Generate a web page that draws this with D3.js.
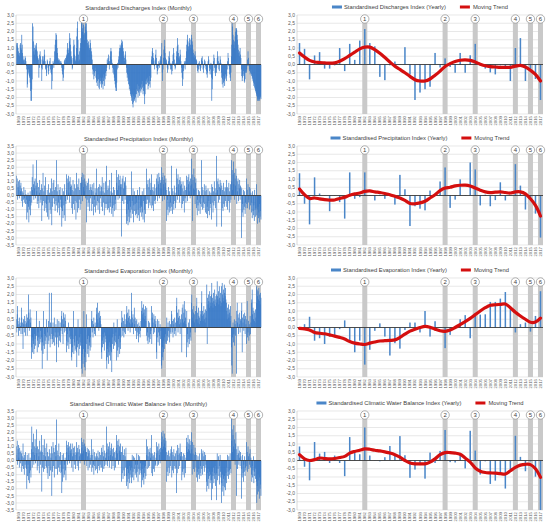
<!DOCTYPE html>
<html>
<head>
<meta charset="utf-8">
<script src="https://cdn.jsdelivr.net/npm/d3@7"></script>
<style>
  body { margin: 0; background: #fff; }
  svg { display: block; }
</style>
</head>
<body>
<div id="chart"></div>
<script>
// ---------------------------------------------------------------
// Standardised indices, monthly (left) and yearly + trend (right)
// ---------------------------------------------------------------

var years = d3.range(1969, 2018);
var eventYears = [1982, 1998, 2004, 2012, 2015, 2017];
var eventLabels = ["1", "2", "3", "4", "5", "6"];

var monthlyTitles = [
  "Standardised Discharges Index (Monthly)",
  "Standardised Precipitation Index (Monthly)",
  "Standardised Evaporation Index (Monthly)",
  "Standardised Climatic Water Balance Index (Monthly)"
];
var yearlyNames = [
  "Standardised Discharges Index (Yearly)",
  "Standardised Precipitation Index (Yearly)",
  "Standardised Evaporation Index (Yearly)",
  "Standardised Climatic Water Balance Index (Yearly)"
];
var trendName = "Moving Trend";
var monthlyLimits = [3, 3.5, 3, 3.5];
var yearlyLimit = 3;

// yearly values, one per year
var sdiYearly = [1.3,0.95,-0.9,0.55,0.75,-0.25,-0.25,-0.05,1.0,-0.4,
  1.25,0.28,1.45,2.15,1.3,1.1,-0.75,-0.95,-0.05,0.18,
  0.02,1.05,-0.6,-2.15,-1.7,-1.5,-1.35,0.7,-0.18,0.37,
  -0.15,-0.5,0.7,-0.5,0.56,1.25,-0.05,-0.25,-0.48,-0.6,
  -0.05,-0.1,-1.0,1.0,1.6,-1.0,-0.35,-0.88,-2.15];
var sdiTrend = [0.7,0.45,0.25,0.15,0.12,0.1,0.08,0.1,0.2,0.35,
  0.55,0.75,0.95,1.05,1.05,0.9,0.68,0.42,0.15,-0.1,
  -0.3,-0.5,-0.72,-0.92,-1.0,-1.0,-0.88,-0.65,-0.4,-0.12,
  0.05,0.18,0.26,0.28,0.25,0.15,0.02,-0.08,-0.13,-0.15,
  -0.17,-0.18,-0.17,-0.1,-0.05,-0.15,-0.35,-0.6,-1.0];

var spiYearly = [1.35,-0.5,-1.75,1.1,0.12,0.02,-0.95,0.03,-0.4,-1.4,
  1.4,-0.2,-0.1,1.4,0.02,-0.3,0.05,-0.2,0.02,-0.55,
  1.25,0.38,-1.85,-0.65,-0.8,-0.9,0.3,0.02,0.85,1.7,
  -0.75,-0.25,0.98,0.03,2.0,1.58,-0.6,0.05,-0.65,-0.28,
  0.8,-0.3,0.02,1.9,0.6,-0.85,-0.1,-1.1,-2.55];
var spiTrend = [0.4,0.05,-0.18,-0.15,-0.2,-0.25,-0.28,-0.27,-0.18,-0.1,
  0.02,0.1,0.15,0.25,0.28,0.22,0.18,0.12,0.05,-0.05,
  -0.15,-0.3,-0.48,-0.5,-0.45,-0.35,-0.15,0.05,0.3,0.45,
  0.5,0.58,0.62,0.63,0.58,0.45,0.32,0.22,0.18,0.2,
  0.22,0.18,0.15,0.22,0.22,0.1,-0.2,-0.6,-1.25];

var seiYearly = [-0.05,0.2,0.65,-0.8,-0.65,-1.0,-0.55,-0.45,-0.1,0.43,
  -0.85,-1.5,-0.8,-2.25,-1.35,-0.2,0.25,-0.55,-1.7,-0.95,
  -1.28,-0.15,0.3,0.3,-0.3,1.0,-0.55,0.38,0.03,-1.25,
  -0.45,0.02,0.5,0.75,-0.65,0.85,0.78,0.8,1.55,1.55,
  1.75,2.15,1.1,-0.3,0.2,0.3,-0.25,0.7,2.2];
var seiTrend = [-0.05,-0.08,-0.15,-0.3,-0.35,-0.38,-0.45,-0.52,-0.6,-0.7,
  -0.85,-0.95,-1.0,-1.03,-0.95,-0.88,-0.82,-0.8,-0.78,-0.75,
  -0.6,-0.4,-0.22,-0.1,0.0,0.07,0.02,-0.1,-0.2,-0.23,
  -0.15,0.0,0.17,0.35,0.55,0.78,1.0,1.2,1.35,1.38,
  1.4,1.42,1.2,0.92,0.7,0.5,0.32,0.33,0.57];

var cwbYearly = [0.85,-0.38,-1.2,1.12,0.42,0.52,-0.15,0.3,-0.15,-0.95,
  1.42,0.45,0.38,2.0,0.3,0.02,-0.05,0.2,0.88,0.35,
  1.48,0.32,-1.05,-0.55,-0.28,-1.1,0.48,-0.15,0.58,1.85,
  -0.1,-0.12,0.35,-0.48,1.8,0.6,-0.85,-0.05,-1.42,-1.22,
  -0.78,-1.7,-0.55,1.5,0.22,-0.65,-0.05,-0.98,-3.0];
var cwbTrend = [0.35,0.1,0.0,0.05,0.15,0.12,0.1,0.12,0.18,0.25,
  0.45,0.55,0.62,0.7,0.68,0.62,0.58,0.52,0.45,0.35,
  0.2,0.0,-0.15,-0.2,-0.2,-0.2,-0.1,0.1,0.35,0.48,
  0.48,0.45,0.38,0.15,-0.1,-0.45,-0.65,-0.73,-0.75,-0.77,
  -0.8,-0.82,-0.62,-0.42,-0.28,-0.23,-0.25,-0.5,-1.02];

// monthly values, one row of 12 per year
var sdiMonthly = [
  1.3,1.2,1.1,1.3,1.0,0.8,0.6,0.5,0.7,1.2,1.3,1.0,
  0.9,1.8,1.2,0.7,0.5,0.3,0.2,0.1,0.3,0.5,0.4,0.2,
  -0.1,-0.3,-1.4,-1.2,-0.6,-0.3,-0.5,-0.7,-0.8,-1.1,-1.6,-2.2,
  -2.2,-1.5,-0.9,2.5,2.3,1.4,0.8,0.6,1.0,1.2,0.9,1.1,
  1.3,0.9,0.8,0.5,0.4,0.3,-0.8,-0.2,0.6,0.8,0.5,0.3,
  -0.2,-1.0,-0.3,0.5,0.3,0.2,0.5,0.9,0.6,0.2,-0.3,-0.2,
  -0.7,-0.5,0.3,0.2,-0.2,-0.6,-0.4,-0.1,0.2,0.4,-0.3,-0.5,
  -0.6,-1.5,-1.0,-0.3,0.2,0.1,-0.2,0.3,0.8,1.2,1.5,1.9,
  1.8,1.5,1.0,0.7,0.4,0.3,0.2,0.1,0.3,0.2,0.1,0.2,
  0.1,-0.2,-0.4,-0.6,-1.0,-0.8,-0.3,0.2,0.3,0.1,0.4,0.3,
  0.5,0.6,0.9,1.3,1.0,0.7,0.9,1.4,1.9,1.6,1.2,0.8,
  0.5,0.3,-0.3,-0.2,0.4,1.1,1.5,1.2,0.6,0.3,0.2,0.5,
  1.0,1.7,2.2,2.6,1.5,0.6,0.2,0.3,0.8,1.0,1.3,1.6,
  2.7,2.5,2.2,2.0,2.6,2.4,1.8,1.5,1.9,2.3,2.5,2.1,
  2.5,2.0,1.5,1.3,1.1,1.4,1.2,0.9,1.0,1.5,1.3,1.0,
  0.8,0.6,0.3,-0.3,-0.6,-0.4,-0.9,-0.7,-0.5,-0.2,-0.4,-0.8,
  -1.1,-0.9,-1.3,-1.0,-0.6,-0.9,-1.4,-1.5,-1.1,-0.8,-1.0,-1.2,
  -1.4,-1.1,-0.8,-1.2,-1.5,-1.0,-0.6,-0.8,-1.3,-0.9,-0.5,-0.7,
  -0.4,-0.2,0.3,0.1,0.4,0.6,0.2,-0.3,0.2,0.5,0.8,1.0,
  0.8,0.3,0.1,-0.2,-0.5,-0.3,-0.6,-0.8,-1.0,-1.2,-1.4,-1.6,
  -1.6,-1.1,-0.3,0.1,-0.2,0.3,0.5,0.8,1.0,1.2,1.0,1.1,
  1.3,1.5,1.2,1.4,1.0,0.8,0.5,0.2,0.4,0.6,0.8,0.3,
  -0.2,-0.5,-0.8,-0.6,-1.0,-1.2,-0.9,-1.5,-1.3,-1.6,-1.8,-1.9,
  -2.0,-2.2,-1.8,-2.4,-2.6,-2.3,-1.9,-2.1,-2.2,-1.8,-2.0,-2.3,
  -1.8,-1.5,-1.2,-1.6,-2.0,-1.7,-1.3,-1.5,-1.9,-1.6,-1.4,-1.7,
  -1.5,-1.2,-1.0,-1.4,-1.8,-1.6,-1.3,-1.9,-2.4,-1.8,-1.2,-1.0,
  -1.2,-0.9,-0.8,-1.1,-1.5,-1.3,-1.0,-0.7,-1.2,-1.4,-1.0,-0.8,
  0.3,0.5,0.8,1.0,0.7,0.4,0.2,-0.1,-0.3,0.3,0.6,0.9,
  0.4,-0.2,-0.6,-0.4,-0.3,-0.1,0.2,0.1,-0.2,0.3,0.5,0.2,
  0.6,1.3,-0.5,-1.0,-0.3,0.4,0.9,1.5,1.1,0.7,0.4,0.2,
  0.3,0.1,-0.2,-0.5,-0.3,0.2,0.5,0.8,0.4,-0.1,-0.3,0.1,
  -0.3,-0.6,-0.4,0.2,0.6,1.0,0.7,0.3,-0.1,-0.3,-0.2,0.1,
  0.5,0.8,1.1,1.6,1.2,0.7,0.4,0.3,0.5,0.9,0.6,0.2,
  -0.2,-0.5,-0.8,-1.3,-0.9,-0.4,-0.2,0.2,0.1,-0.3,0.2,0.4,
  0.8,1.2,1.5,1.8,1.4,1.1,0.9,1.3,1.6,1.5,1.2,1.0,
  1.8,1.6,1.4,1.2,0.9,0.7,0.5,0.4,0.6,0.8,0.5,0.3,
  0.3,0.2,-0.2,-0.4,-0.5,-0.3,0.1,0.2,-0.1,-0.3,-0.4,-0.2,
  0.3,0.4,0.5,0.2,-0.3,-0.5,-0.2,0.1,0.3,0.2,-0.1,-0.3,
  -0.4,-0.6,-0.8,-0.5,0.2,0.5,0.3,-0.2,-0.4,-0.6,-0.3,0.1,
  -0.8,-2.2,-1.5,-0.9,-0.4,0.2,0.6,0.4,-0.2,-0.5,-0.7,-0.3,
  -0.5,-0.2,0.4,0.8,0.5,0.2,-0.3,-0.4,0.1,0.5,0.3,0.1,
  -0.5,-0.8,-1.2,-0.9,-1.4,-1.1,-0.7,-1.0,-1.3,-0.9,-0.6,-0.8,
  -1.0,-0.7,-0.3,0.2,0.7,0.4,-0.1,-0.3,-0.6,-0.8,-1.0,-0.5,
  0.5,1.2,2.6,2.3,1.8,1.5,1.2,1.0,1.4,1.7,2.0,2.2,
  2.2,2.1,1.8,1.5,1.2,0.9,0.7,0.5,0.8,1.0,0.6,0.4,
  -0.3,-0.7,-1.0,-0.8,-0.6,-0.4,-0.7,-1.0,-1.1,-0.9,-0.5,-0.4,
  -0.5,-0.3,-0.1,0.3,0.8,0.4,-0.1,-0.3,-0.4,-0.6,-0.5,-0.3,
  -0.6,-0.7,-0.9,-0.8,-1.0,-1.1,-1.3,-1.2,-1.4,-1.5,-1.6,-1.7,
  -1.8,-1.9,-2.0,-2.2,-2.1,-2.2,-2.0,-2.1,-2.2,-1.9,-2.0,-2.1
];

var spiMonthly = [
  1.4,0.8,1.2,-0.3,0.6,1.0,0.4,-0.2,1.1,0.7,0.3,0.9,
  0.5,-0.4,0.3,-0.8,0.2,-0.3,0.6,-0.5,-0.2,0.4,-0.6,0.1,
  -0.3,-1.7,-0.6,-1.2,0.2,-0.8,-1.9,-0.4,-1.0,0.3,-1.4,-0.7,
  0.6,-0.5,1.3,0.4,2.2,0.8,-0.3,1.0,0.5,1.2,-0.2,0.7,
  2.5,0.3,-0.6,0.9,-0.4,0.6,-0.9,0.2,1.1,-0.5,0.4,-0.3,
  0.8,-1.8,0.5,-0.7,1.6,-0.4,0.3,-1.1,0.7,-0.5,1.3,-0.9,
  -0.6,-1.2,0.4,-1.5,-0.3,0.8,-1.7,-0.5,0.2,-1.0,0.5,-1.3,
  1.2,-2.1,0.3,-0.8,0.9,-0.2,1.1,-0.6,0.4,-1.1,0.6,-0.4,
  2.5,-0.7,0.3,-1.2,0.8,-0.5,-0.9,0.4,-1.4,0.6,-0.3,-0.8,
  -0.9,-2.2,0.5,-1.1,-1.6,0.3,-0.7,-1.4,0.8,-1.8,-0.4,-0.6,
  1.5,0.4,1.2,-0.3,0.9,1.4,0.2,1.0,-0.5,1.3,0.6,0.8,
  0.7,-0.9,0.4,-1.3,1.1,-0.6,0.3,-1.0,0.8,-0.4,0.5,-1.7,
  1.6,-0.5,0.8,-1.2,0.6,-0.9,1.2,-0.3,0.4,-1.0,0.9,-0.6,
  1.3,0.9,1.6,-0.4,1.1,0.6,1.5,0.3,1.2,0.8,-0.2,1.0,
  -1.9,0.7,-0.3,0.9,-0.8,1.2,-0.5,0.4,-1.1,0.8,-0.2,0.6,
  0.4,-1.1,0.8,-0.6,0.3,-1.4,0.9,-0.3,-0.8,0.5,-1.2,0.2,
  1.9,-0.7,0.5,-0.4,-1.0,0.6,-0.5,0.8,-1.3,0.3,-0.2,0.7,
  0.6,-0.8,1.3,-1.1,0.3,-0.5,0.9,-1.4,0.2,-0.6,1.0,-0.9,
  2.1,-0.6,0.4,-1.0,0.7,-0.9,0.5,-1.2,1.1,-0.5,-0.8,0.3,
  1.6,-1.3,0.2,-0.9,-1.5,0.6,-0.7,-1.1,0.4,-0.6,-0.3,-1.0,
  1.8,0.9,1.3,0.4,-0.3,1.5,0.7,1.1,-0.2,1.4,0.8,0.6,
  -2.9,0.8,1.2,-0.4,1.4,0.5,-0.6,1.0,0.9,-0.3,1.3,0.7,
  -2.0,-1.3,-1.8,-0.6,-2.1,-1.0,-1.5,-0.4,-1.9,-1.2,-0.8,-1.6,
  1.7,-1.0,-0.4,-1.3,0.5,-1.9,-0.7,0.3,-1.1,-0.6,-1.4,-0.2,
  -1.3,-0.5,-1.6,0.4,-1.0,-1.4,-0.3,-1.8,0.6,-0.9,-1.2,-0.7,
  -0.8,-1.5,0.3,-1.2,-1.7,-0.4,0.5,-1.9,-1.0,-0.6,-1.3,-0.3,
  1.9,-0.6,0.8,-0.3,1.1,-0.9,0.6,-0.5,1.2,-0.7,0.4,0.9,
  1.5,-0.9,0.4,-0.7,0.6,-1.1,0.3,-0.4,0.8,-0.6,-0.3,0.5,
  1.2,0.6,1.5,-0.4,1.0,0.8,1.6,-0.2,1.3,0.5,0.9,1.1,
  2.0,0.5,1.3,-0.4,1.6,0.8,1.1,-0.3,1.4,0.6,0.9,1.2,
  -1.8,0.4,-1.0,-0.3,-1.4,0.6,-0.8,-1.2,0.3,-0.9,-0.5,-1.1,
  2.1,-0.8,0.5,-1.3,0.3,-0.6,-1.0,0.7,-0.4,0.2,-0.9,-0.5,
  1.9,0.6,1.2,-0.3,1.5,0.8,0.4,1.1,-0.5,1.3,0.7,1.0,
  0.8,-0.9,0.5,-0.6,1.0,-0.4,0.3,-1.2,0.7,-0.2,0.4,-0.5,
  1.4,0.6,1.1,-0.4,1.3,0.8,1.5,0.3,1.0,-0.2,1.2,0.7,
  2.6,0.8,1.5,-1.8,1.1,0.5,1.9,0.4,1.3,-0.6,0.9,1.2,
  -0.9,0.5,-1.4,-0.3,-0.7,0.4,-1.1,-0.5,0.3,-1.3,-0.6,-0.2,
  2.5,-0.8,0.6,-1.0,0.4,-0.5,-0.9,0.8,-0.6,0.3,-1.2,0.7,
  -1.3,0.4,-0.8,-1.6,0.5,-1.1,-0.4,-1.4,0.3,-0.9,-0.6,0.2,
  -1.7,0.8,-0.5,0.6,-1.2,0.3,-0.7,1.0,-0.4,0.5,-0.9,0.2,
  2.8,-2.2,1.0,0.4,1.2,-0.5,0.8,0.6,-0.3,1.1,0.5,0.9,
  -2.2,0.7,-0.9,0.4,-1.1,0.9,-0.6,0.3,-0.8,0.6,-0.4,0.5,
  1.1,-0.8,0.6,-1.0,0.5,-0.4,0.9,-1.2,0.3,-0.5,0.8,-0.3,
  2.5,1.0,1.8,0.4,1.5,2.4,0.8,1.6,-0.3,1.2,0.7,1.9,
  1.4,-0.6,1.0,0.3,1.2,-0.4,0.8,0.5,1.1,-0.3,0.7,0.6,
  -3.0,0.5,-1.2,-0.6,-1.5,0.4,-1.0,-0.8,0.3,-1.3,-0.5,-0.9,
  1.2,-0.6,0.4,-0.9,0.8,-0.5,-0.3,0.6,-1.0,0.5,-0.7,0.2,
  -1.2,-0.5,-1.6,0.3,-1.1,-1.4,-0.7,-1.8,0.4,-1.0,-1.5,-0.9,
  0.8,-1.4,-1.0,-2.0,-0.8,-1.6,-1.2,-1.9,-0.6,-1.5,-1.1,-1.7
];

var seiMonthly = [
  0.5,-0.3,0.8,1.3,0.4,-0.5,0.2,0.6,-0.2,0.3,0.1,-0.4,
  1.2,0.6,-0.4,0.3,-1.3,0.5,0.2,-0.3,0.7,0.4,-0.5,0.2,
  0.3,0.8,-0.5,0.6,0.4,2.0,0.9,-0.2,0.5,1.1,0.3,0.6,
  -1.9,-1.2,-0.6,-1.5,-0.8,-1.0,-1.6,-0.4,-1.3,-0.7,-1.1,-0.5,
  1.0,-0.5,-1.5,-0.8,-0.3,-1.2,-0.6,0.4,-1.0,-0.7,-0.2,-0.9,
  -0.6,-1.4,-2.5,-0.9,-1.6,1.0,-1.1,-0.4,-1.3,-0.8,-0.5,-1.0,
  0.5,-0.6,-2.0,-0.3,-1.0,0.4,-0.8,2.1,-0.5,-1.2,0.3,-0.7,
  2.1,-0.4,-1.0,-0.7,0.3,-0.9,-0.5,0.6,-1.1,-0.3,-0.6,0.2,
  -2.1,-1.0,0.5,-0.6,-0.3,-1.2,0.4,-0.8,-0.5,0.3,-0.9,-0.2,
  0.7,1.0,-0.4,0.5,-1.0,0.9,0.2,0.6,-0.3,0.8,0.4,-0.2,
  -1.5,-0.8,-1.1,-0.4,-0.9,0.3,-1.3,-0.6,-0.2,-1.0,-0.7,-0.5,
  -1.8,-2.0,-1.2,-1.5,-0.7,1.0,-1.6,-1.1,-0.9,-1.4,-0.5,-1.3,
  -1.5,-2.4,-0.8,-1.2,0.5,-1.0,-1.7,-0.6,-1.3,-0.9,-1.1,-0.4,
  -2.5,-2.0,-2.8,-1.6,-2.2,-1.3,1.0,-2.4,-1.8,-2.6,-1.5,-2.1,
  0.8,-1.0,-1.6,-0.7,-1.3,-0.5,-1.8,-1.1,-0.9,-1.4,-0.6,-1.2,
  0.5,1.0,-0.3,0.4,-0.6,0.2,0.6,-0.2,-0.4,0.3,-0.5,0.1,
  1.2,0.8,0.5,1.5,0.3,0.9,-0.2,0.6,1.0,0.4,0.7,0.2,
  -1.5,-1.9,-0.8,-1.2,-0.4,-1.0,-0.6,-1.4,-0.3,-0.9,-0.5,-0.7,
  -2.0,-2.5,-1.3,-1.8,-1.1,-2.2,-1.5,-0.9,-1.7,-1.2,-2.0,-1.4,
  -1.5,-2.7,-0.6,-1.0,-0.4,-1.3,0.3,-0.8,-1.1,-0.5,-0.9,-0.3,
  -2.0,-1.0,0.5,-1.4,-1.8,-0.7,-1.2,-0.5,-1.6,-0.9,-1.3,-0.6,
  0.3,1.0,-0.5,0.6,-0.2,0.4,-0.6,0.8,-0.3,0.2,-0.4,0.5,
  0.8,1.3,0.4,0.9,-0.2,0.6,1.1,0.3,0.7,-0.3,0.5,0.2,
  2.1,1.0,0.6,0.3,0.8,-0.4,0.5,1.2,0.2,0.6,-0.2,0.4,
  -0.7,0.5,-0.3,0.2,-0.5,-0.9,0.3,-0.4,0.1,-0.6,-0.2,0.4,
  1.0,1.6,0.8,1.2,0.6,1.4,0.9,0.5,1.1,0.7,1.3,0.4,
  -0.5,1.2,-0.8,-0.3,-1.0,0.4,-0.6,-0.9,0.3,-0.7,-0.4,-0.2,
  1.3,-1.0,0.6,0.9,0.3,-0.4,0.8,0.5,-0.3,0.7,0.2,0.4,
  -1.5,-1.9,-0.6,0.5,-0.9,-0.3,0.4,-1.1,-0.5,0.2,-0.7,-0.2,
  -2.3,-2.5,-1.8,-1.2,-2.0,-1.5,-0.8,-1.3,-0.6,-1.0,-0.4,-0.9,
  -1.0,0.6,-0.5,-0.8,0.3,-0.2,-0.6,0.4,-0.9,-0.3,0.2,-0.4,
  1.0,0.8,-0.3,0.4,-0.6,0.5,0.2,-0.4,0.6,-0.2,0.3,-0.5,
  1.3,1.8,0.4,0.9,-0.3,0.6,1.1,0.2,0.7,-0.4,0.5,0.3,
  0.8,-1.5,1.2,0.5,1.4,0.3,0.9,1.6,0.4,1.1,0.6,0.2,
  -1.8,1.0,-0.9,-0.4,-1.2,0.3,-0.7,-1.0,0.5,-0.6,-0.3,-0.8,
  1.5,2.0,0.6,1.1,0.4,0.9,1.3,0.3,0.8,-0.3,1.0,0.5,
  1.3,1.8,0.5,0.9,0.3,1.2,0.7,0.2,0.6,1.0,0.4,0.8,
  1.5,2.2,0.7,1.0,0.4,0.8,1.3,0.5,0.9,0.3,1.1,0.6,
  1.0,2.6,-1.0,1.8,1.4,2.0,1.6,1.2,2.2,1.5,1.9,1.3,
  2.0,2.7,1.5,1.8,1.2,2.1,1.6,1.4,2.3,1.7,1.3,1.9,
  2.0,1.5,2.8,1.9,1.7,2.2,1.4,2.5,1.8,1.6,2.1,1.3,
  2.5,1.5,2.7,2.0,1.8,2.3,1.6,2.6,2.1,1.9,2.4,1.7,
  1.5,1.0,0.5,1.2,0.8,1.4,0.6,1.1,0.9,0.4,1.3,0.7,
  -1.2,-2.3,-2.8,-0.6,0.3,-0.9,-0.4,0.5,-1.1,0.2,-0.5,0.4,
  -2.8,1.0,1.5,0.3,0.8,-0.4,0.6,0.2,0.9,-0.3,0.5,0.4,
  1.0,1.5,-1.5,0.6,0.3,0.8,-0.2,0.5,0.9,-0.4,0.7,0.2,
  -1.0,0.5,1.6,-0.6,-0.3,0.4,-0.8,0.2,-0.5,0.7,-0.4,0.3,
  1.5,1.7,2.3,0.8,1.2,0.5,1.0,0.4,0.9,0.3,1.1,0.6,
  2.5,1.5,2.3,1.9,2.2,1.7,2.4,1.6,2.0,1.4,2.1,1.8
];

var cwbMonthly = [
  1.0,0.4,1.4,-0.3,0.8,1.1,0.2,-0.5,0.9,0.6,-0.2,0.7,
  0.5,-0.8,0.3,-0.4,1.2,-0.6,0.2,-1.0,0.4,-0.3,0.6,-0.5,
  -0.6,-2.0,0.4,-1.1,-0.3,-1.4,0.5,-0.9,-1.6,0.2,-0.7,-1.2,
  0.8,2.4,-0.5,1.3,0.6,1.9,-0.3,1.0,0.4,1.5,-0.2,0.9,
  2.2,0.5,-0.7,1.0,-0.4,0.8,0.3,-0.9,1.4,0.6,-0.3,0.7,
  1.8,-2.2,0.6,-0.5,1.1,-0.8,0.4,1.5,-0.6,0.9,0.3,-0.4,
  -0.5,1.2,-0.9,0.6,-1.3,0.3,-0.4,0.8,-1.1,0.5,-0.7,0.2,
  1.0,-2.5,0.5,-0.8,1.3,-0.4,0.9,-1.2,0.6,-0.6,1.1,0.3,
  2.9,-0.6,0.7,-1.0,0.4,-0.5,1.2,-0.8,0.3,-0.3,0.6,-0.9,
  -0.8,-2.3,0.4,-1.5,-0.6,0.5,-1.2,-0.3,-1.0,0.2,-0.7,-1.4,
  1.4,0.6,1.1,-0.3,0.9,1.3,0.4,1.0,-0.2,0.7,1.2,0.5,
  0.8,-0.5,1.2,0.3,-0.8,0.9,0.5,-0.3,1.0,0.4,-0.6,0.6,
  1.3,0.5,-0.4,0.9,0.6,-0.7,1.1,0.3,0.8,-0.2,0.5,0.4,
  1.6,0.9,1.3,0.5,1.1,0.7,1.5,-0.3,1.2,0.8,1.0,0.6,
  0.6,-0.4,0.9,0.3,-0.7,0.8,0.5,-0.5,0.7,0.2,-0.3,0.4,
  1.5,-0.8,0.4,-0.5,0.8,-0.3,-1.0,0.6,-0.4,0.3,-0.7,0.2,
  0.5,-0.6,0.3,-0.9,0.7,-0.4,0.2,-0.7,0.6,-0.3,0.4,-0.5,
  0.9,-0.5,0.6,-0.8,1.1,0.3,-0.6,0.7,-0.4,0.5,0.2,-0.3,
  2.4,0.6,1.2,-0.4,0.8,1.0,0.3,-0.5,1.3,0.7,0.4,0.9,
  1.2,-0.6,0.8,0.3,-0.4,0.9,0.5,-0.7,0.6,0.2,-0.5,0.7,
  1.8,0.9,1.4,0.5,1.1,-0.3,1.5,0.7,1.0,0.4,1.2,0.6,
  -1.5,0.6,-0.9,1.0,-1.3,0.4,-0.7,0.8,-1.1,0.3,-0.5,0.9,
  -1.8,-1.1,-1.5,-0.6,-2.0,-0.9,-1.3,-0.4,-1.6,-1.0,-0.7,-1.2,
  -1.6,-0.5,0.4,-1.2,-0.8,0.3,-1.4,-0.6,0.2,-1.0,-0.3,-0.9,
  -1.2,0.5,-0.8,-0.3,-1.5,0.4,-0.6,-1.0,0.3,-0.7,-0.2,-0.9,
  -1.9,-1.0,-0.6,-1.4,-0.3,-1.2,-1.7,-0.5,-0.9,-1.3,-0.4,-1.1,
  1.5,0.4,-0.6,1.0,0.3,-0.5,0.8,0.6,-0.4,0.9,0.2,0.5,
  1.8,-0.9,0.5,-1.1,0.3,-0.6,0.4,-0.8,0.6,-0.4,-0.3,0.2,
  1.3,0.5,-0.4,1.0,0.7,-0.3,1.2,0.4,0.8,-0.2,0.9,0.6,
  2.0,1.3,1.7,0.8,2.1,1.0,1.5,1.9,1.2,1.6,0.9,1.4,
  -1.5,0.6,-0.8,0.4,-1.1,0.7,-0.5,0.3,-0.9,0.5,-0.4,0.8,
  1.0,-1.2,0.6,-0.7,0.4,-0.9,0.8,-0.4,0.3,-0.6,0.5,-0.5,
  -2.3,0.7,-0.9,1.1,0.4,-0.6,0.9,0.5,-0.4,1.2,0.3,0.6,
  0.6,-1.4,0.3,-0.8,-1.0,0.5,-0.6,-1.2,0.4,-0.5,-0.9,0.2,
  1.6,1.0,1.3,0.6,1.8,0.8,1.2,1.5,0.7,1.1,0.5,1.4,
  2.0,0.8,-1.0,1.3,0.5,-0.6,1.1,0.4,-0.8,0.9,0.6,-0.5,
  -1.2,0.4,-0.8,-1.5,0.3,-1.0,-0.6,-1.3,0.5,-0.9,-0.4,-1.1,
  0.8,-0.6,0.5,-1.0,0.7,-0.4,0.3,-0.8,0.6,-0.5,0.4,-0.3,
  -1.5,-2.2,-0.9,-1.8,-0.6,-1.3,-2.0,-1.1,-0.8,-1.6,-1.0,-1.4,
  -2.8,-1.4,-0.8,-2.0,-1.1,-0.5,-1.6,-0.9,-1.3,-0.4,-1.8,-1.0,
  -2.8,-0.9,0.5,-1.4,-0.6,0.3,-1.1,-0.4,-1.7,0.4,-0.8,-1.2,
  -3.0,-1.6,-2.2,-1.0,-1.8,-1.3,-2.5,-1.1,-1.9,-1.4,-2.1,-0.9,
  -1.6,-0.5,-1.1,0.4,-0.8,-1.3,0.3,-0.7,-1.0,0.5,-0.6,-0.9,
  3.0,1.4,2.2,0.6,1.8,1.0,2.5,0.8,1.5,-0.3,1.2,2.0,
  -2.5,0.8,0.4,-0.6,1.0,0.5,-0.3,0.7,0.2,-0.4,0.6,0.3,
  -2.7,-0.6,-1.2,0.4,-0.9,-1.5,-0.3,-0.8,0.3,-1.1,-0.5,-0.7,
  1.3,-0.4,0.6,-0.8,1.0,0.3,-0.6,0.5,-0.3,0.8,-0.5,0.2,
  -1.0,-1.5,-0.4,-1.2,-0.7,0.3,-1.6,-0.8,-1.1,-0.5,-1.3,-0.6,
  -1.5,-3.0,-1.8,-2.4,-1.0,-2.2,-1.4,-2.7,-1.2,-2.0,-1.7,-2.5
];

var monthlySeries = [sdiMonthly, spiMonthly, seiMonthly, cwbMonthly];
var yearlySeries = [sdiYearly, spiYearly, seiYearly, cwbYearly];
var trendSeries = [sdiTrend, spiTrend, seiTrend, cwbTrend];

// layout
var rowTop = [0, 131, 263, 396];
var leftX = [16, 261], rightX = [297, 543];
var plotTop = 15, plotBottom = 114;
var barBlue = "#4a86c8", monthBlue = "#3577c6";
var trendRed = "#d40f0f", bandGrey = "#c9c9c9";
var textGrey = "#595959";

var fmt = d3.formatLocale({decimal: ",", thousands: ".", grouping: [3], currency: ["", ""], minus: "-"}).format(".1f");

var svg = d3.select("#chart").append("svg")
    .attr("width", 550).attr("height", 527)
    .style("font-family", "'Liberation Sans', Arial, sans-serif");

function drawFrame(g, xr, lim) {
  var y = d3.scaleLinear().domain([-lim, lim]).range([plotBottom, plotTop]);
  var ticks = d3.range(-lim, lim + 0.001, 0.5);
  g.append("g").selectAll("line").data(ticks).enter().append("line")
    .attr("x1", xr[0]).attr("x2", xr[1])
    .attr("y1", function(d) { return y(d); }).attr("y2", function(d) { return y(d); })
    .attr("stroke", "#d9d9d9").attr("stroke-width", 0.6);
  g.append("g").selectAll("text").data(ticks).enter().append("text")
    .attr("x", xr[0] - 2).attr("y", function(d) { return y(d) + 1.7; })
    .attr("text-anchor", "end").attr("font-size", 5).attr("fill", textGrey)
    .text(function(d) { return fmt(d); });

  var xb = d3.scaleBand().domain(years).range(xr);
  // highlighted years
  g.append("g").selectAll("rect").data(eventYears).enter().append("rect")
    .attr("x", function(d) { return xb(d); }).attr("width", xb.bandwidth())
    .attr("y", plotTop).attr("height", plotBottom - plotTop)
    .attr("fill", bandGrey);
  // year labels
  g.append("g").selectAll("text").data(years).enter().append("text")
    .attr("transform", function(d) {
      return "translate(" + (xb(d) + xb.bandwidth() / 2 + 1.5) + "," + (plotBottom + 2) + ") rotate(-90)";
    })
    .attr("text-anchor", "end").attr("font-size", 4.3).attr("fill", textGrey)
    .text(function(d) { return d; });
  return {y: y, xb: xb};
}

function drawFront(g, xr, s) {
  g.append("line").attr("x1", xr[0]).attr("x2", xr[1])
    .attr("y1", s.y(0)).attr("y2", s.y(0))
    .attr("stroke", "#3a3a3a").attr("stroke-width", 0.9);
  g.append("line").attr("x1", xr[0]).attr("x2", xr[0])
    .attr("y1", plotTop).attr("y2", plotBottom)
    .attr("stroke", "#bfbfbf").attr("stroke-width", 0.6);
  var ev = g.append("g").selectAll("g").data(eventYears).enter().append("g")
    .attr("transform", function(d) {
      return "translate(" + (s.xb(d) + s.xb.bandwidth() / 2) + "," + (plotTop + 4) + ")";
    });
  ev.append("circle").attr("r", 4.2).attr("fill", "#fff")
    .attr("stroke", "#808080").attr("stroke-width", 0.6);
  ev.append("text").attr("y", 2.1).attr("text-anchor", "middle")
    .attr("font-size", 6).attr("fill", "#404040")
    .text(function(d, i) { return eventLabels[i]; });
}

monthlyTitles.forEach(function(title, r) {
  // ---- monthly panel
  var gl = svg.append("g").attr("transform", "translate(0," + rowTop[r] + ")");
  var sl = drawFrame(gl, leftX, monthlyLimits[r]);
  var xm = d3.scaleLinear().domain([0, years.length * 12]).range(leftX);
  gl.append("g").selectAll("rect").data(monthlySeries[r]).enter().append("rect")
    .attr("x", function(d, i) { return xm(i); })
    .attr("width", function(d, i) { return xm(i + 1) - xm(i) + 0.3; })
    .attr("y", function(d) { return sl.y(Math.max(0, d)); })
    .attr("height", function(d) { return Math.abs(sl.y(d) - sl.y(0)); })
    .attr("fill", monthBlue);
  drawFront(gl, leftX, sl);
  gl.append("text").attr("x", (leftX[0] + leftX[1]) / 2).attr("y", 9.5)
    .attr("text-anchor", "middle").attr("font-size", 5.8).attr("fill", "#404040")
    .text(title);

  // ---- yearly panel
  var gr = svg.append("g").attr("transform", "translate(0," + rowTop[r] + ")");
  var sr = drawFrame(gr, rightX, yearlyLimit);
  var xy = d3.scaleBand().domain(years).range(rightX).paddingInner(0.7).paddingOuter(0.35);
  gr.append("g").selectAll("rect").data(yearlySeries[r]).enter().append("rect")
    .attr("x", function(d, i) { return xy(years[i]); })
    .attr("width", xy.bandwidth())
    .attr("y", function(d) { return sr.y(Math.max(0, d)); })
    .attr("height", function(d) { return Math.abs(sr.y(d) - sr.y(0)); })
    .attr("fill", barBlue);
  drawFront(gr, rightX, sr);
  var line = d3.line()
    .x(function(d, i) { return xy(years[i]) + xy.bandwidth() / 2; })
    .y(function(d) { return sr.y(d); })
    .curve(d3.curveCatmullRom);
  gr.append("path").datum(trendSeries[r]).attr("d", line)
    .attr("fill", "none").attr("stroke", trendRed).attr("stroke-width", 3.2)
    .attr("stroke-linejoin", "round").attr("stroke-linecap", "round");

  // legend
  var lg = gr.append("g");
  lg.append("rect").attr("x", 0).attr("y", 5.5).attr("width", 10).attr("height", 3)
    .attr("fill", barBlue);
  var t1 = lg.append("text").attr("x", 12).attr("y", 9).attr("font-size", 5.8)
    .attr("fill", "#404040").text(yearlyNames[r]);
  var w1 = t1.node().getComputedTextLength();
  var x2 = 12 + w1 + 14;
  lg.append("line").attr("x1", x2).attr("x2", x2 + 10).attr("y1", 7).attr("y2", 7)
    .attr("stroke", trendRed).attr("stroke-width", 3);
  var t2 = lg.append("text").attr("x", x2 + 13).attr("y", 9).attr("font-size", 5.8)
    .attr("fill", "#404040").text(trendName);
  var total = x2 + 13 + t2.node().getComputedTextLength();
  lg.attr("transform", "translate(" + ((rightX[0] + rightX[1]) / 2 - total / 2) + ",0)");
});
</script>
</body>
</html>
